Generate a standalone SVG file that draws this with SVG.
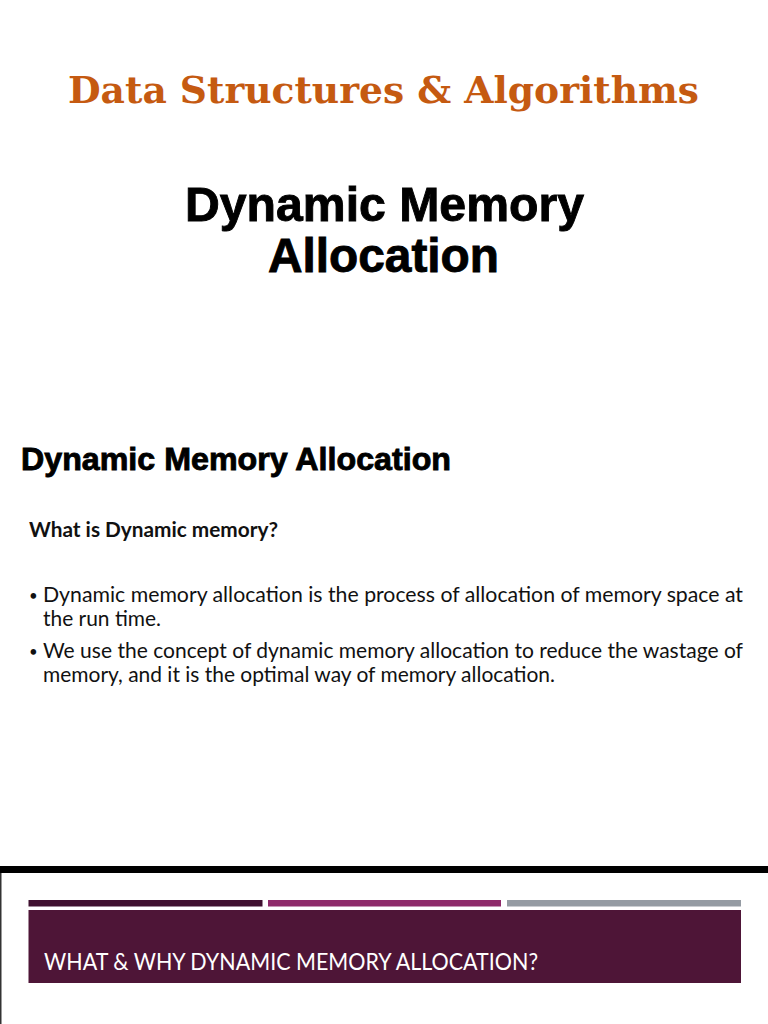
<svg xmlns="http://www.w3.org/2000/svg" width="768" height="1024" viewBox="0 0 768 1024">
<style>
.h{font-family:"Liberation Sans",Arial,sans-serif;font-weight:700;fill:#000;stroke:#000;stroke-width:.9}
.b{font-family:Lato,"Open Sans",sans-serif;font-size:21px;fill:#111}
.d{font-family:Lato,"Open Sans",sans-serif;font-size:15px;fill:#111}
</style>
<rect width="768" height="1024" fill="#fff"/>
<g id="title">
<text x="68" y="103" font-family="DejaVu Serif,Liberation Serif,serif" font-weight="700" font-size="37" fill="#c55a11" textLength="631" lengthAdjust="spacingAndGlyphs">Data Structures &amp; Algorithms</text>
</g>
<g id="heading">
<text class="h" x="185" y="221" font-size="48" textLength="399" lengthAdjust="spacingAndGlyphs">Dynamic Memory</text>
<text class="h" x="268" y="272" font-size="48" textLength="231" lengthAdjust="spacingAndGlyphs">Allocation</text>
</g>
<g id="content">
<text class="h" x="21" y="470" font-size="32" textLength="430" lengthAdjust="spacingAndGlyphs">Dynamic Memory Allocation</text>
<text x="29" y="537" font-family="Lato,Open Sans,sans-serif" font-weight="700" font-size="20" fill="#111" textLength="249" lengthAdjust="spacingAndGlyphs">What is Dynamic memory?</text>
<text class="d" x="29" y="601">•</text>
<text class="b" x="43" y="602" textLength="700" lengthAdjust="spacingAndGlyphs">Dynamic memory allocation is the process of allocation of memory space at</text>
<text class="b" x="43" y="626" textLength="118" lengthAdjust="spacingAndGlyphs">the run time.</text>
<text class="d" x="29" y="657">•</text>
<text class="b" x="43" y="658" textLength="700" lengthAdjust="spacingAndGlyphs">We use the concept of dynamic memory allocation to reduce the wastage of</text>
<text class="b" x="43" y="682" textLength="512" lengthAdjust="spacingAndGlyphs">memory, and it is the optimal way of memory allocation.</text>
</g>
<g id="slide">
<rect x="0" y="866" width="768" height="7" fill="#000"/>
<rect x="0" y="873" width="1.5" height="151" fill="#333"/>
<rect x="28.500" y="900" width="234" height="6.500" fill="#3f1030"/>
<rect x="268" y="900" width="233" height="6.500" fill="#8e2a6a"/>
<rect x="507" y="900" width="234" height="6.500" fill="#959ba3"/>
<rect x="28.500" y="910" width="712.500" height="73" fill="#4e1537"/>
<text x="44" y="970" font-family="Lato,Open Sans,sans-serif" font-size="23" fill="#fff" textLength="494" lengthAdjust="spacingAndGlyphs">WHAT &amp; WHY DYNAMIC MEMORY ALLOCATION?</text>
</g>
</svg>
